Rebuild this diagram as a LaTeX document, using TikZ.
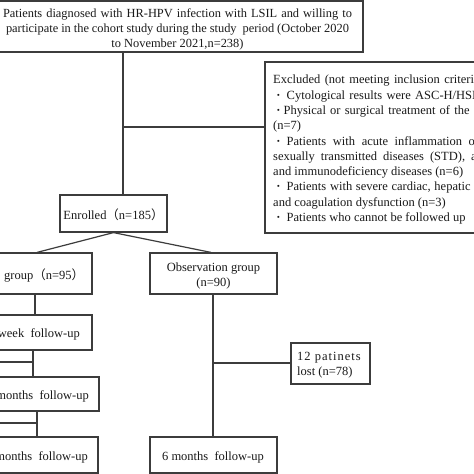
\documentclass[tikz,border=0pt]{standalone}
\usepackage{fontspec}
\setmainfont{Liberation Serif}
\newfontfamily\cjkfont{Noto Sans CJK SC}
\newcommand{\fwl}{{\cjkfont （}}
\newcommand{\fwr}{{\cjkfont ）}}
\newcommand{\blt}{\ \textbf{·}\ }
\definecolor{lineg}{HTML}{3C3C3C}
\definecolor{inkc}{HTML}{1A1A1A}
\begin{document}
\begin{tikzpicture}[x=1pt,y=-1pt,
  box/.style={draw=lineg, line width=1.2pt, rectangle, inner sep=0pt},
  txt/.style={inner sep=0pt, text=inkc, font=\fontsize{12.5}{15.3}\selectfont},
  conn/.style={draw=lineg, line width=1.2pt}]
\useasboundingbox (0,0) rectangle (474,474);
\fill[white] (0,0) rectangle (474,474);
\clip (0,0) rectangle (474,474);
% boxes
\node[box, minimum width=372pt, minimum height=51pt] (top) at (177,26.5) {};
\node[txt, align=center, font=\fontsize{12.4}{15.3}\selectfont] (toptxt) at (177.5,29.5)
 {\makebox[349pt][s]{Patients diagnosed with HR-HPV infection with LSIL and willing to}\\
  \makebox[343pt][s]{participate in the cohort study during the study\hspace{3pt} period (October 2020}\\
  to November 2021,n=238)};
\node[box, minimum width=230pt, minimum height=171pt] (excl) at (380,147.5) {};
\node[txt, anchor=north west, align=left] (excltxt) at (273,75)
 {{\spaceskip=4.4pt\relax Excluded (not meeting inclusion criteria}\\
 \blt\ {\spaceskip=4.4pt\relax Cytological results were ASC-H/HSIL}\\
 \blt{\spaceskip=4.2pt\relax Physical or surgical treatment of the}\\
 (n=7)\\
 \blt\ {\spaceskip=6.6pt\relax Patients with acute inflammation or}\\
 {\spaceskip=6pt\relax sexually transmitted diseases (STD), and}\\
 and immunodeficiency diseases (n=6)\\
 \blt\ {\spaceskip=3.7pt\relax Patients with severe cardiac, hepatic}\\
 and coagulation dysfunction (n=3)\\
 \blt\ Patients who cannot be followed up};
\node[box, minimum width=107pt, minimum height=37pt] (enr) at (113.5,213.5) {};
\node[txt] (enrt) at (113.5,214.5) {Enrolled\fwl n=185\fwr};
\node[box, minimum width=132pt, minimum height=41pt] (grpL) at (26,273.5) {};
\node[txt, anchor=west] (grpLt) at (4,275.5) {group\fwl n=95\fwr};
\node[box, minimum width=127pt, minimum height=41pt] (obs) at (213.5,273.5) {};
\node[txt, align=center] (obst) at (213.5,276) {Observation group\\(n=90)};
\node[box, minimum width=132pt, minimum height=35pt] (week) at (26,332.5) {};
\node[txt, anchor=east] (weekt) at (80,334.5) {week\ \ follow-up};
\node[box, minimum width=139pt, minimum height=34pt] (m3) at (29.5,394) {};
\node[txt, anchor=east] (m3t) at (89,396) {months\ \ follow-up};
\node[box, minimum width=138pt, minimum height=36pt] (m6L) at (29,455) {};
\node[txt, anchor=east] (m6Lt) at (88,457) {months\ \ follow-up};
\node[box, minimum width=127pt, minimum height=36pt] (m6R) at (213.5,455) {};
\node[txt] (m6Rt) at (213,457) {6 months\ \ follow-up};
\node[box, minimum width=79pt, minimum height=41pt] (lost) at (330.5,363.5) {};
\node[txt, anchor=west, align=left] (lostt) at (297,365.5) {{\addfontfeature{LetterSpace=8}12 patinets}\\lost (n=78)};
% helper coordinates
\coordinate (jx) at (123,127);
\coordinate (gLx) at (37,0);
\coordinate (oLx) at (211,0);
\coordinate (c1) at (35,0);
\coordinate (c2) at (33,0);
\coordinate (c3) at (37,0);
\coordinate (offA) at (-5,362);
\coordinate (offB) at (-5,423);
\coordinate (ox) at (213,363);
% connectors
\draw[conn] (top.south -| jx) -- (enr.north -| jx);
\draw[conn] (jx) -- (excl.west |- jx);
\draw[conn] (enr.south) -- (grpL.north -| gLx);
\draw[conn] (enr.south) -- (obs.north -| oLx);
\draw[conn] (grpL.south -| c1) -- (week.north -| c1);
\draw[conn] (week.south -| c2) -- (m3.north -| c2);
\draw[conn] (offA) -- (offA -| c2);
\draw[conn] (m3.south -| c3) -- (m6L.north -| c3);
\draw[conn] (offB) -- (offB -| c3);
\draw[conn] (obs.south -| ox) -- (m6R.north -| ox);
\draw[conn] (ox) -- (lost.west |- ox);
\end{tikzpicture}
\end{document}
